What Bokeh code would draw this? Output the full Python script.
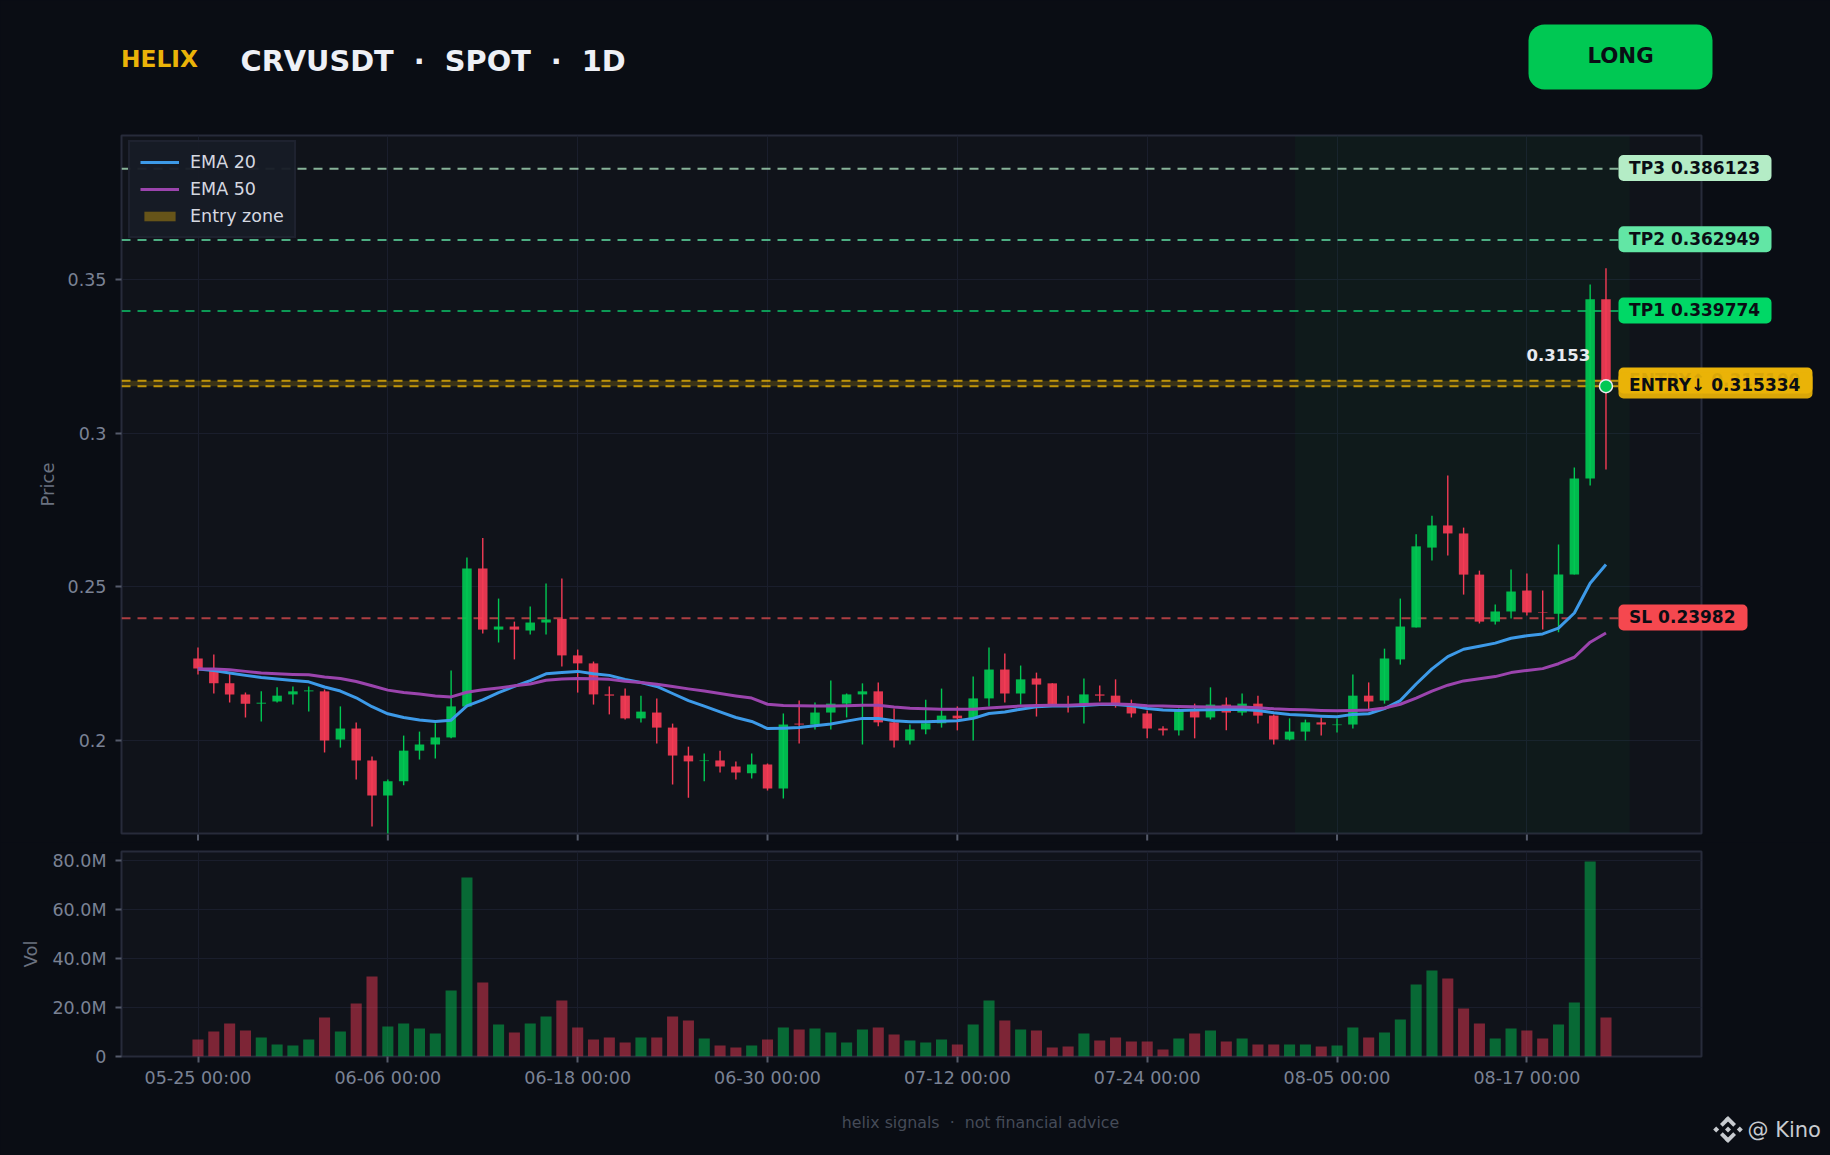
from bokeh.plotting import figure
from bokeh.layouts import column
from bokeh.core.properties import value
from bokeh.models import (ColumnDataSource, FixedTicker, Legend, LegendItem, Range1d)
from bokeh.embed import file_html
from bokeh.resources import INLINE

opens = [.2267,.2234,.2186,.2150,.2120,.2127,.2150,.2160,.2160,.2003,
         .2039,.1935,.1821,.1867,.1967,.1987,.2010,.2111,.2560,.2361,
         .2371,.2358,.2384,.2396,.2277,.2251,.2150,.2146,.2072,.2091,
         .2042,.1951,.1933,.1935,.1915,.1893,.1922,.1844,.2055,.2052,
         .2091,.2120,.2150,.2160,.2059,.2000,.2036,.2056,.2081,.2072,
         .2137,.2231,.2153,.2202,.2186,.2117,.2117,.2150,.2146,.2120,
         .2088,.2039,.2033,.2098,.2075,.2117,.2091,.2120,.2081,.2003,
         .2029,.2059,.2050,.2052,.2146,.2130,.2264,.2368,.2628,.2700,
         .2674,.2540,.2387,.2420,.2488,.2417,.2413,.2540,.2853,.3436]
highs = [.2303,.2280,.2217,.2156,.2160,.2173,.2176,.2176,.2166,.2111,
         .2059,.1948,.1873,.2016,.2029,.2056,.2228,.2596,.2659,.2462,
         .2387,.2436,.2511,.2527,.2296,.2257,.2176,.2169,.2146,.2137,
         .2055,.1980,.1958,.1967,.1932,.1958,.1925,.2088,.2130,.2124,
         .2195,.2153,.2186,.2189,.2104,.2052,.2133,.2169,.2111,.2208,
         .2303,.2283,.2244,.2221,.2186,.2146,.2202,.2179,.2199,.2133,
         .2098,.2046,.2104,.2120,.2173,.2140,.2153,.2146,.2085,.2072,
         .2068,.2075,.2072,.2215,.2189,.2299,.2462,.2671,.2732,.2863,
         .2693,.2553,.2443,.2557,.2544,.2488,.2638,.2889,.3484,.3537]
lows = [.2215,.2153,.2124,.2075,.2062,.2124,.2117,.2094,.1961,.1977,
        .1873,.1720,.1690,.1854,.1938,.1941,.2007,.2108,.2348,.2319,
        .2264,.2345,.2345,.2241,.2156,.2117,.2085,.2068,.2059,.1990,
        .1857,.1814,.1867,.1896,.1873,.1876,.1837,.1811,.1990,.2036,
        .2036,.2075,.1987,.2046,.1977,.1987,.2020,.2042,.2033,.2000,
        .2111,.2124,.2117,.2078,.2114,.2091,.2055,.2127,.2107,.2075,
        .2007,.2016,.2016,.2007,.2068,.2033,.2081,.2055,.1987,.2000,
        .2000,.2016,.2026,.2039,.2098,.2120,.2247,.2368,.2586,.2602,
        .2475,.2381,.2378,.2397,.2407,.2361,.2352,.2540,.2830,.2882]
closes = [.2234,.2186,.2150,.2120,.2123,.2146,.2160,.2163,.2000,.2039,
          .1935,.1821,.1867,.1967,.1987,.2010,.2111,.2560,.2361,.2371,
          .2361,.2384,.2394,.2277,.2251,.2150,.2146,.2072,.2094,.2042,
          .1951,.1932,.1935,.1915,.1896,.1922,.1844,.2052,.2052,.2091,
          .2120,.2150,.2160,.2059,.2000,.2036,.2056,.2081,.2072,.2137,
          .2231,.2153,.2199,.2182,.2114,.2114,.2150,.2146,.2114,.2088,
          .2039,.2033,.2098,.2075,.2117,.2091,.2120,.2081,.2003,.2029,
          .2059,.2052,.2052,.2146,.2127,.2267,.2371,.2632,.2700,.2674,
          .2540,.2387,.2420,.2485,.2417,.2415,.2540,.2853,.3436,.315334]
ema20 = [.2233,.2228,.2220,.2212,.2205,.2200,.2195,.2191,.2174,.2161,
         .2139,.2110,.2087,.2075,.2067,.2062,.2066,.2113,.2132,.2156,
         .2176,.2195,.2217,.2221,.2225,.2217,.2212,.2199,.2189,.2176,
         .2153,.2130,.2112,.2093,.2075,.2062,.2039,.2040,.2042,.2048,
         .2054,.2063,.2072,.2072,.2064,.2061,.2061,.2063,.2064,.2072,
         .2088,.2093,.2102,.2110,.2112,.2112,.2114,.2117,.2117,.2113,
         .2104,.2099,.2098,.2099,.2100,.2101,.2101,.2098,.2090,.2085,
         .2082,.2079,.2077,.2085,.2087,.2104,.2130,.2184,.2233,.2273,
         .2297,.2307,.2317,.2333,.2341,.2347,.2366,.2415,.2512,.2573]
ema50 = [.2233,.2233,.2230,.2225,.2220,.2217,.2215,.2214,.2207,.2202,
         .2192,.2178,.2164,.2156,.2151,.2145,.2142,.2157,.2165,.2171,
         .2178,.2184,.2196,.2200,.2202,.2201,.2199,.2193,.2189,.2183,
         .2176,.2168,.2161,.2153,.2145,.2138,.2118,.2114,.2113,.2112,
         .2112,.2113,.2115,.2115,.2109,.2105,.2103,.2102,.2102,.2102,
         .2106,.2109,.2112,.2114,.2115,.2115,.2117,.2119,.2119,.2117,
         .2113,.2112,.2111,.2110,.2109,.2109,.2109,.2107,.2103,.2101,
         .2100,.2098,.2097,.2098,.2099,.2106,.2118,.2138,.2161,.2180,
         .2194,.2201,.2208,.2221,.2228,.2234,.2250,.2271,.2320,.2350]
volumes = [6.9,10.2,13.5,10.6,7.8,4.9,4.5,6.9,15.9,10.2,
           21.6,32.7,12.2,13.5,11.4,9.4,26.9,73.1,30.2,13.1,
           9.8,13.5,16.3,22.9,11.8,6.9,7.8,5.7,7.8,7.8,
           16.3,14.7,7.3,4.5,3.7,4.5,6.9,11.8,11.0,11.4,
           9.8,5.7,11.0,11.8,9.0,6.5,5.7,6.9,4.9,13.1,
           22.9,14.7,11.0,10.6,3.7,4.1,9.4,6.5,7.8,6.1,
           6.1,2.9,7.3,9.4,10.6,6.1,7.3,4.9,4.9,4.9,
           4.9,4.1,4.5,11.8,7.8,9.8,15.1,29.4,35.1,31.8,
           19.6,13.5,7.3,11.4,10.6,7.3,13.1,22.0,79.6,15.9]
date_ticks = [0, 12, 24, 36, 48, 60, 72, 84]
date_labels = ["05-25 00:00", "06-06 00:00", "06-18 00:00", "06-30 00:00",
               "07-12 00:00", "07-24 00:00", "08-05 00:00", "08-17 00:00"]
price_ticks = [0.2, 0.25, 0.3, 0.35]
price_labels = ["0.2", "0.25", "0.3", "0.35"]
vol_ticks = [0, 20, 40, 60, 80]
vol_labels = ["0", "20.0M", "40.0M", "60.0M", "80.0M"]
level_names = ["TP3 0.386123", "TP2 0.362949", "TP1 0.339774", "SL 0.23982"]
level_values = [0.386123, 0.362949, 0.339774, 0.23982]
level_line_colors = ["#a9dfbd", "#5fd9a0", "#0bbf66", "#d94a4e"]
level_box_colors = ["#b4ecc6", "#62e6a5", "#00d866", "#f5484f"]
level_box_right = [1771, 1771, 1771, 1747]
entry_low = 0.315334
entry_high = 0.3171
zone_start, zone_end = 69.35, 90.5

BG, PANEL, GRID, FRAME = "#0a0d14", "#10131a", "#1a1e2c", "#272b3a"
GREEN, RED, TXT = "#00c853", "#f43b55", "#7a8294"
FONT = "DejaVu Sans"
NB = "\u00a0"

# pixel helpers for placing annotations in page coordinates
def X(px):
    return (px - 197.5) / 15.82

def Y(py):
    return 0.2 + (740 - py) / 3072

def VY(py):
    return (1056 - py) / 2.45

x_range = Range1d(X(121), X(1701))
idx = list(range(len(closes)))
ups = [c >= o for o, c in zip(opens, closes)]
src = ColumnDataSource(dict(
    x=idx, o=opens, h=highs, l=lows, c=closes, vol=volumes,
    top=[max(o, c) for o, c in zip(opens, closes)],
    bot=[min(o, c) for o, c in zip(opens, closes)],
    col=[GREEN if u else RED for u in ups],
))

p = figure(width=1830, height=842, x_range=x_range, y_range=Range1d(Y(833), Y(135)),
           output_backend="svg", toolbar_location=None,
           min_border_left=121, min_border_right=129, min_border_top=135, min_border_bottom=9,
           background_fill_color=PANEL, border_fill_color=BG,
           outline_line_color=FRAME, outline_line_width=2)
v = figure(width=1830, height=313, x_range=x_range, y_range=Range1d(0, VY(851)),
           output_backend="svg", toolbar_location=None,
           min_border_left=121, min_border_right=129, min_border_top=9, min_border_bottom=99,
           background_fill_color=PANEL, border_fill_color=BG,
           outline_line_color=FRAME, outline_line_width=2)

TICK = "#555b6b"
for f in (p, v):
    f.xgrid.ticker = FixedTicker(ticks=date_ticks)
    f.xgrid.grid_line_color = GRID
    f.ygrid.grid_line_color = GRID
    f.xaxis.ticker = FixedTicker(ticks=date_ticks)
    for ax in (f.xaxis[0], f.yaxis[0]):
        ax.axis_line_color = None
        ax.major_tick_line_color = TICK
        ax.major_tick_line_width = 2
        ax.major_tick_out = 6
        ax.major_tick_in = 0
        ax.minor_tick_line_color = None
        ax.major_label_text_color = TXT
        ax.major_label_text_font = FONT
        ax.major_label_text_font_size = "17.5px"
        ax.axis_label_text_color = "#6b7280"
        ax.axis_label_text_font = FONT
        ax.axis_label_text_font_size = "18px"
        ax.axis_label_text_font_style = "normal"

# the price panel's date axis only shows tick marks
p.xaxis.visible = False
p.segment(x0=date_ticks, x1=date_ticks, y0=[Y(834)] * 8, y1=[Y(840)] * 8,
          line_color=TICK, line_width=2, level="annotation")
v.xaxis.major_label_overrides = dict(zip(date_ticks, date_labels))
v.xaxis.major_label_standoff = 5

p.yaxis.ticker = FixedTicker(ticks=price_ticks)
p.ygrid.ticker = FixedTicker(ticks=price_ticks)
p.yaxis.major_label_overrides = dict(zip(price_ticks, price_labels))
p.yaxis.major_label_standoff = 9
p.yaxis.axis_label = "Price"
p.yaxis.axis_label_standoff = 7

v.yaxis.ticker = FixedTicker(ticks=vol_ticks)
v.ygrid.ticker = FixedTicker(ticks=vol_ticks)
v.yaxis.major_label_overrides = dict(zip(vol_ticks, vol_labels))
v.yaxis.major_label_standoff = 9
v.yaxis.axis_label = "Vol"
v.yaxis.axis_label_standoff = 8

# signal zone and price levels
p.quad(left=[zone_start], right=[zone_end], bottom=[Y(833)], top=[Y(135)],
       fill_color=GREEN, fill_alpha=0.04, line_color=None)
p.quad(left=[X(121)], right=[X(1618)], bottom=[entry_low], top=[entry_high],
       fill_color="#eab308", fill_alpha=0.2, line_color=None)
swatch = p.quad(left=[X(121)], right=[X(121)], bottom=[entry_low], top=[entry_low],
                fill_color="#eab308", fill_alpha=0.38, line_color=None)
for val in (entry_high, entry_low):
    p.segment(x0=[X(121)], x1=[X(1618)], y0=[val], y1=[val],
              line_color="#eab308", line_width=2, line_dash="9 7", line_alpha=0.8)
for val, colr in zip(level_values, level_line_colors):
    p.segment(x0=[X(121)], x1=[X(1618)], y0=[val], y1=[val],
              line_color=colr, line_width=2, line_dash="9 7", line_alpha=0.78)

# candles
p.segment(x0="x", x1="x", y0="l", y1="h", source=src, line_color="col", line_width=1.4)
p.vbar(x="x", width=0.6, top="top", bottom="bot", source=src, fill_color="col",
       fill_alpha=0.92, line_color=None)

e20 = p.line(idx, ema20, line_color="#3d9ae8", line_width=3, line_join="round")
e50 = p.line(idx, ema50, line_color="#9b44ad", line_width=3, line_join="round")

p.scatter([idx[-1]], [closes[-1]], size=13, marker="circle", fill_color=GREEN,
          line_color="#e8eaf0", line_width=1.5)

legend = Legend(items=[LegendItem(label="EMA 20", renderers=[e20]),
                       LegendItem(label="EMA 50", renderers=[e50]),
                       LegendItem(label="Entry zone", renderers=[swatch])],
                location=(7, 595), orientation="vertical",
                background_fill_color="#171b26", background_fill_alpha=0.95,
                border_line_color="#262a3a", border_line_width=2,
                label_text_color="#d5d8e0", label_text_font=FONT, label_text_font_size="17.5px",
                label_height=20, label_standoff=11, glyph_width=39, glyph_height=12,
                spacing=7, padding=10, margin=0)
p.add_layout(legend)


def put_text(fig, x, y, text, size, color, bold=False, align="left"):
    fig.text(x=[x], y=[y], text=[text], text_font=value(FONT), text_font_size=size,
             text_font_style="bold" if bold else "normal", text_color=color,
             text_baseline="middle", text_align=align, level="annotation")


def box_label(fig, yc, right, text, box, alpha=1.0):
    fig.quad(left=[X(1618)], right=[X(right)], bottom=[Y(yc + 13)], top=[Y(yc - 13)],
             fill_color=box, fill_alpha=alpha, line_color=None, border_radius=5, level="annotation")
    put_text(fig, X(1628.6), Y(yc - 0.5), text, "17px", "#0a0d14", bold=True)


def py_of(val):
    return 739.3 - (val - 0.2) * 3072


for name, val, box, right in zip(level_names, level_values, level_box_colors, level_box_right):
    box_label(p, py_of(val), right, name, box)
box_label(p, 380, 1812, "ENTRY\u2191 " + f"{entry_high:.6f}", "#eab308")
box_label(p, 385, 1812, "ENTRY\u2193 " + f"{entry_low:.6f}", "#eab308", alpha=0.93)

put_text(p, X(1526), Y(354), "0.3153", "16.5px", "#e8eaf0", bold=True)

# header
put_text(p, X(120.5), Y(58), "HELIX", "23.3px", "#eab308", bold=True)
put_text(p, X(240), Y(60), f"CRVUSDT{NB}{NB}\u00b7{NB}{NB}SPOT{NB}{NB}\u00b7{NB}{NB}1D", "28.8px",
         "#eef0f6", bold=True)
p.quad(left=[X(1528)], right=[X(1712)], bottom=[Y(89)], top=[Y(24)], fill_color="#00c853",
       line_color=None, border_radius=16, level="annotation")
put_text(p, X(1620), Y(55), "LONG", "21.3px", "#0a0d14", bold=True, align="center")

# volume
v.vbar(x="x", width=0.7, top="vol", bottom=0, source=src, fill_color="col", fill_alpha=0.48,
       line_color=None)

put_text(v, X(980), VY(1122), f"helix signals{NB}{NB}\u00b7{NB}{NB}not financial advice", "15.8px",
         "#454b58", align="center")
put_text(v, X(1747), VY(1129), "@ Kino", "21px", "#c8cbd0")

# watermark logo, built from short strokes
cx, cy = 1727.5, 1129
strokes = [
    (-1.38, -12.13, 6.65, -4.15, 3.9), (0, -10.75, -6.65, -4.15, 3.9),
    (-1.38, 12.13, 6.65, 4.15, 3.9), (0, 10.75, -6.65, 4.15, 3.9),
    (-1.5, -1.5, 1.5, 1.5, 4.24),
    (-13.3, -1.5, -10.3, 1.5, 4.24), (10.3, -1.5, 13.3, 1.5, 4.24),
]
for ax0, ay0, ax1, ay1, w in strokes:
    v.segment(x0=[X(cx + ax0)], y0=[VY(cy + ay0)], x1=[X(cx + ax1)], y1=[VY(cy + ay1)],
              line_color="#c8cbd0", line_width=w, line_cap="butt", level="annotation")

layout = column(p, v, spacing=0)
html = file_html(layout, INLINE)
html = html.replace("</head>", "<style>html,body{background:#0a0d14;margin:0;overflow:hidden}</style></head>", 1)
open("out.html", "w").write(html)
